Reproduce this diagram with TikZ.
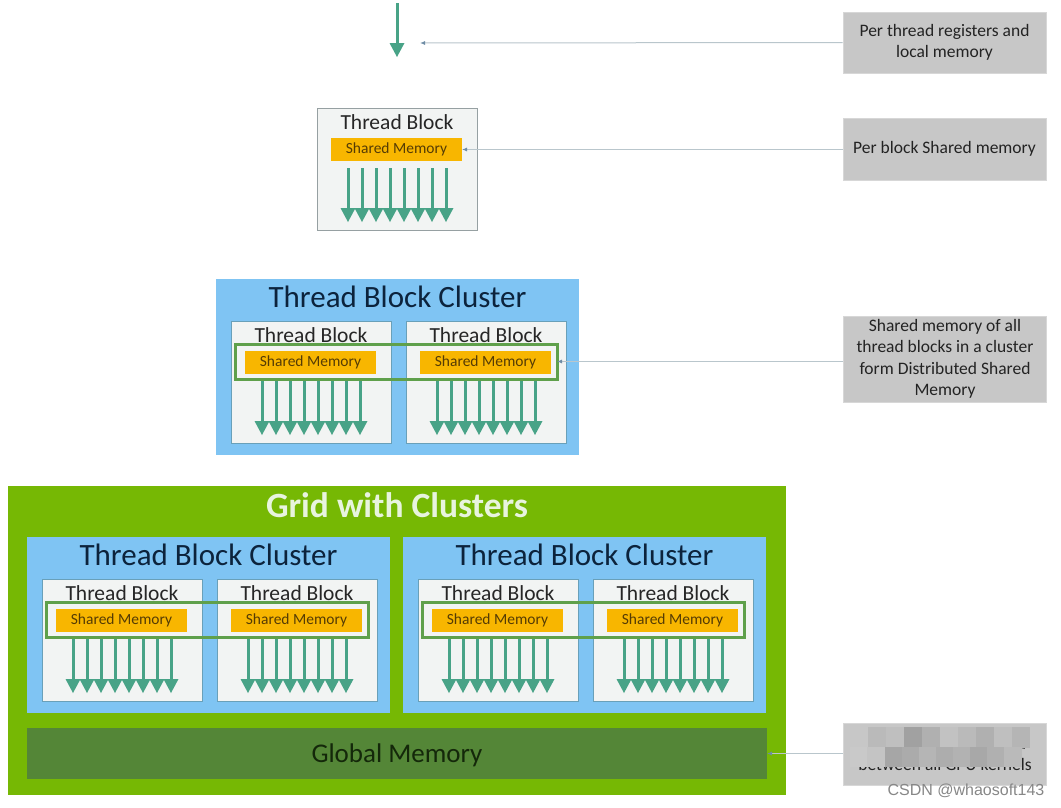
\documentclass[tikz,border=0pt]{standalone}
\usepackage{fontspec}
\setmainfont{Carlito}
\newfontfamily\wmfont{Liberation Sans}
\usetikzlibrary{arrows.meta}
\definecolor{thrgreen}{RGB}{72,163,135}
\definecolor{tbfill}{RGB}{242,244,243}
\definecolor{tbline}{RGB}{150,160,162}
\definecolor{tbcline}{RGB}{105,160,185}
\definecolor{smfill}{RGB}{248,182,0}
\definecolor{smtext}{RGB}{85,60,5}
\definecolor{dsmline}{RGB}{95,160,75}
\definecolor{clblue}{RGB}{127,196,243}
\definecolor{clnavy}{RGB}{12,35,60}
\definecolor{gridgreen}{RGB}{118,184,4}
\definecolor{gmemgreen}{RGB}{84,134,55}
\definecolor{gmemtext}{RGB}{20,40,10}
\definecolor{gridtitle}{RGB}{232,244,222}
\definecolor{callfill}{RGB}{199,199,199}
\definecolor{callline}{RGB}{215,215,215}
\definecolor{calltext}{RGB}{35,35,35}
\definecolor{connline}{RGB}{185,198,204}
\definecolor{conntip}{RGB}{110,140,165}
\definecolor{wmgray}{RGB}{135,135,135}
\tikzset{
 box/.style={inner sep=0pt, outer sep=0pt, anchor=north west},
 tbsolo/.style={box, fill=tbfill, draw=tbline, line width=1pt, minimum width=160pt, minimum height=122pt},
 tbclus/.style={box, fill=tbfill, draw=tbcline, line width=1pt, minimum width=160pt, minimum height=122pt},
 tbtitle/.style={inner sep=0pt, text=black!85, font=\fontsize{21.5}{24}\selectfont},
 smem/.style={box, fill=smfill, minimum width=131pt, minimum height=23pt, text=smtext, font=\fontsize{15.5}{18}\selectfont},
 dsm/.style={box, draw=dsmline, line width=3pt, minimum width=322pt, minimum height=35pt},
 cluster/.style={box, fill=clblue, minimum width=363pt, minimum height=176pt},
 cltitle/.style={inner sep=0pt, text=clnavy, font=\fontsize{31}{34}\selectfont},
 tarrow/.style={draw=thrgreen, line width=3pt, -{Triangle[width=15pt,length=14pt,line width=0pt]}},
 callout/.style={fill=callfill, draw=callline, line width=0.8pt, minimum width=203pt, text=calltext, align=center, inner sep=0pt, font=\fontsize{17.5}{21.5}\selectfont},
 conn/.style={draw=connline, line width=1pt, -{Latex[length=5pt,width=4pt,color=conntip]}},
}
\newcommand{\TBlk}[4]{%
 \node[#4] (#1) at ({#2},{#3}) {};
 \node[tbtitle] (#1-t) at ({#2+80},{#3+14.5}) {Thread Block};
 \node[smem] (#1-sm) at ({#2+14},{#3+30}) {Shared Memory};
 \foreach \i in {0,...,7}{\draw[tarrow] ({#2+31+14*\i},{#3+60}) -- ({#2+31+14*\i},{#3+114});}
}
\newcommand{\Clus}[3]{%
 \node[cluster] (#1) at ({#2},{#3}) {};
 \node[cltitle] (#1-t) at ({#2+181.5},{#3+18}) {Thread Block Cluster};
 \TBlk{#1-a}{#2+15}{#3+42}{tbclus}
 \TBlk{#1-b}{#2+190}{#3+42}{tbclus}
 \node[dsm] (#1-dsm) at ({#2+19},{#3+65}) {};
}
\begin{document}
\begin{tikzpicture}[x=1pt,y=-1pt]
\useasboundingbox[fill=white] (0,0) rectangle (1061,807);
% top thread arrow
\coordinate (ta) at (397,3);
\coordinate (tb) at (397,57);
\draw[tarrow] (ta) -- (tb);
\coordinate (thr) at (420,43);
% single thread block
\TBlk{tb0}{317}{108}{tbsolo}
% thread block cluster
\Clus{c1}{216}{279}
% grid with clusters
\node[box, fill=gridgreen, minimum width=778pt, minimum height=309pt] (grid) at (8,486) {};
\node[font=\bfseries\fontsize{35.5}{38}\selectfont, text=gridtitle, inner sep=0pt] (grid-t) at (397,505) {Grid with Clusters};
\Clus{cA}{27}{537}
\Clus{cB}{403}{537}
\node[box, fill=gmemgreen, minimum width=740pt, minimum height=51pt] (gmem) at (27,728) {};
\node[font=\fontsize{27}{30}\selectfont, text=gmemtext, inner sep=0pt] (gmem-t) at (397,755) {Global Memory};
% callouts
\node[callout, minimum height=61pt] (k1) at (944.5,42.5) {Per thread registers and\\local memory};
\node[callout, minimum height=62pt] (k2) at (944.5,149) {Per block Shared memory};
\node[callout, minimum height=86pt] (k3) at (945,359) {Shared memory of all\\thread blocks in a cluster\\form Distributed Shared\\Memory};
\node[callout, minimum height=62pt] (k4) at (945,754) {Global memory shared\\between all GPU kernels};
% connectors
\draw[conn] (k1.west) -- (thr);
\draw[conn] (k2.west |- tb0-sm.east) -- (tb0-sm.east);
\draw[conn] (k3.west |- c1-dsm.east) -- (c1-dsm.east);
\draw[conn] (k4.west |- gmem.east) -- (gmem.east);
% mosaic over the last callout
\foreach \xx/\g in {850/22,868/27,886/25,904/37,922/31,940/24,958/27,976/31,994/25,1012/29}
  {\fill[black!\g] (\xx,727) rectangle ++(17.5,21);}
\foreach \xx/\g in {850/21,867/23,885/35,902/33,919/29,936/32,953/30,970/34,987/31,1004/27}
  {\fill[black!\g] (\xx,747) rectangle ++(17.5,20);}
% watermark
\node[font=\wmfont\fontsize{16}{18}\selectfont, text=wmgray, inner sep=0pt] (wm) at (966,791) {CSDN @whaosoft143};
\end{tikzpicture}
\end{document}
